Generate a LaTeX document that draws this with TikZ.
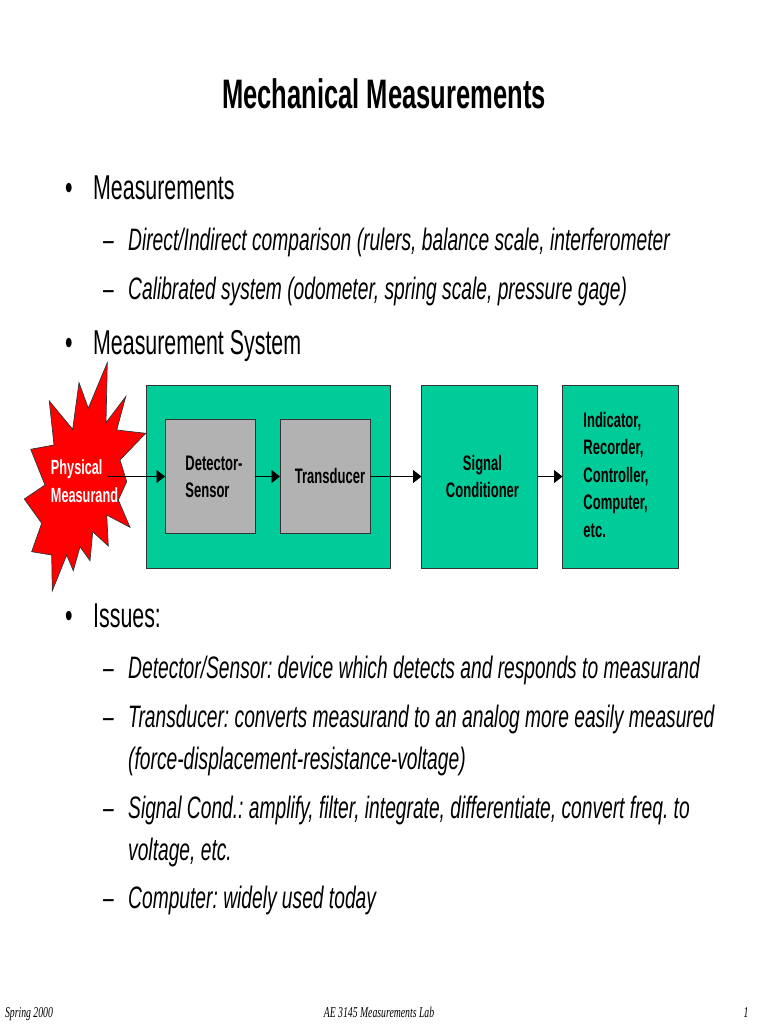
\documentclass[tikz,border=0pt]{standalone}
\usepackage{fontspec}
\usepackage{tikz}
\usetikzlibrary{arrows.meta, positioning}

\newfontfamily\slidefont[FakeStretch=0.62]{Liberation Sans}
\newfontfamily\footfont[FakeStretch=0.65]{Liberation Serif}
\newcommand{\bul}{\llap{\makebox[28pt][l]{\textbullet}}}
\newcommand{\dashitem}{\llap{\makebox[25pt][l]{–}}}
\definecolor{boxgreen}{HTML}{00CC99}
\definecolor{boxgray}{HTML}{B2B2B2}

\begin{document}
\frenchspacing
\begin{tikzpicture}[
		x=1pt, y=-1pt,
		% Slide text
		title/.style={font=\slidefont\bfseries\fontsize{41.2}{44}\selectfont, anchor=base},
		lvlone/.style={font=\slidefont\fontsize{34.5}{40}\selectfont, anchor=base west, inner sep=0pt},
		lvltwo/.style={font=\slidefont\itshape\fontsize{31}{36}\selectfont, anchor=base west, inner sep=0pt},
		foot/.style={font=\footfont\itshape\fontsize{15}{18}\selectfont, anchor=base, inner sep=0pt},
		% Diagram boxes
		block/.style={draw=black!80, line width=0.8pt, fill=boxgreen, inner sep=0pt, outer sep=0pt,
			font=\slidefont\bfseries\fontsize{21}{27.5}\selectfont, align=left},
		graybox/.style={block, fill=boxgray, minimum width=90pt, minimum height=114pt},
		% Standard arrow
		arrow/.style={-{Triangle[length=8.5pt, width=13pt]}, line width=0.9pt, black}
		]
		\useasboundingbox (0,0) rectangle (768,1024);
		
		% === TEXT ABOVE DIAGRAM ===
		\node[title] (heading) at (384,109) {Mechanical Measurements};
		\node[lvlone] (meas) at (93,200) {\bul Measurements};
		\node[lvltwo] (direct) at (128,251) {\dashitem Direct/Indirect comparison (rulers, balance scale, interferometer};
		\node[lvltwo] (calib) at (128,299) {\dashitem Calibrated system (odometer, spring scale, pressure gage)};
		\node[lvlone] (system) at (93,354) {\bul Measurement System};
		
		% === DIAGRAM ===
		
		% Starburst
		\draw[fill=red, draw=black!80, line width=0.7pt]
		(107.3,362.7) -- (106,422.7) -- (125.7,396.7) -- (116.7,430) -- (145.7,433.3)
		-- (120,460) -- (126.7,481.7) -- (118.3,500) -- (130,527.3) -- (106.7,515)
		-- (108.3,546) -- (92.7,531.7) -- (90,560.7) -- (80,546.7) -- (73.3,570.7)
		-- (66.7,555) -- (52.3,590.7) -- (51.7,555) -- (31.7,551.7) -- (41.7,523.3)
		-- (24.3,499) -- (45,485) -- (30.7,449.3) -- (54,445) -- (49.3,401)
		-- (72.7,429.3) -- (79,382.7) -- (88.3,408.3) -- cycle;
		\node[font=\slidefont\bfseries\fontsize{20.5}{27.5}\selectfont, text=white, align=left, inner sep=0pt] (measurand) at (84.5,481) {Physical\\Measurand};
		\coordinate (source) at (108,476.5);
		
		% Boxes
		\node[block, minimum width=244pt, minimum height=183pt] (system box) at (268,476.5) {};
		\node[graybox] (sensor) at (210,476.5) {\hspace*{8pt}\raisebox{-2pt}{Detector-}\\[-1.5pt]\hspace*{8pt}\raisebox{-3pt}{Sensor}};
		\node[graybox] (transducer) at (325,476.5) {\hspace*{10pt}\raisebox{2pt}{Transducer}};
		\node[block, minimum width=116pt, minimum height=183pt, align=center] (conditioner) at (479.5,476.5) {\hspace*{6pt}\raisebox{-1pt}{Signal}\\\hspace*{6pt}\raisebox{-1pt}{Conditioner}};
		\node[block, minimum width=116pt, minimum height=183pt] (indicator) at (620.5,476.5) {\raisebox{4.5pt}{\hspace*{-9pt}\begin{tabular}{@{}l@{}}Indicator,\\Recorder,\\Controller,\\Computer,\\etc.\end{tabular}}};
		
		% Arrows
		\draw[arrow] (source) -- (sensor);
		\draw[arrow] (sensor) -- (transducer);
		\draw[arrow] (transducer) -- (conditioner);
		\draw[arrow] (conditioner) -- (indicator);
		
		% === TEXT BELOW DIAGRAM ===
		\node[lvlone] (issues) at (93,627) {\bul Issues:};
		\node[lvltwo] (det) at (128,678) {\dashitem Detector/Sensor: device which detects and responds to measurand};
		\node[lvltwo] (trans) at (128,727) {\dashitem Transducer: converts measurand to an analog more easily measured};
		\node[lvltwo] (trans two) at (128,769) {(force-displacement-resistance-voltage)};
		\node[lvltwo] (cond) at (128,818) {\dashitem Signal Cond.: amplify, filter, integrate, differentiate, convert freq. to};
		\node[lvltwo] (cond two) at (128,860) {voltage, etc.};
		\node[lvltwo] (comp) at (128,908) {\dashitem Computer: widely used today};
		
		% === FOOTER ===
		\node[foot] (spring) at (29,1017) {Spring 2000};
		\node[foot] (course) at (379,1017) {AE 3145 Measurements Lab};
		\node[foot] (page) at (746,1017) {1};
	\end{tikzpicture}
\end{document}
